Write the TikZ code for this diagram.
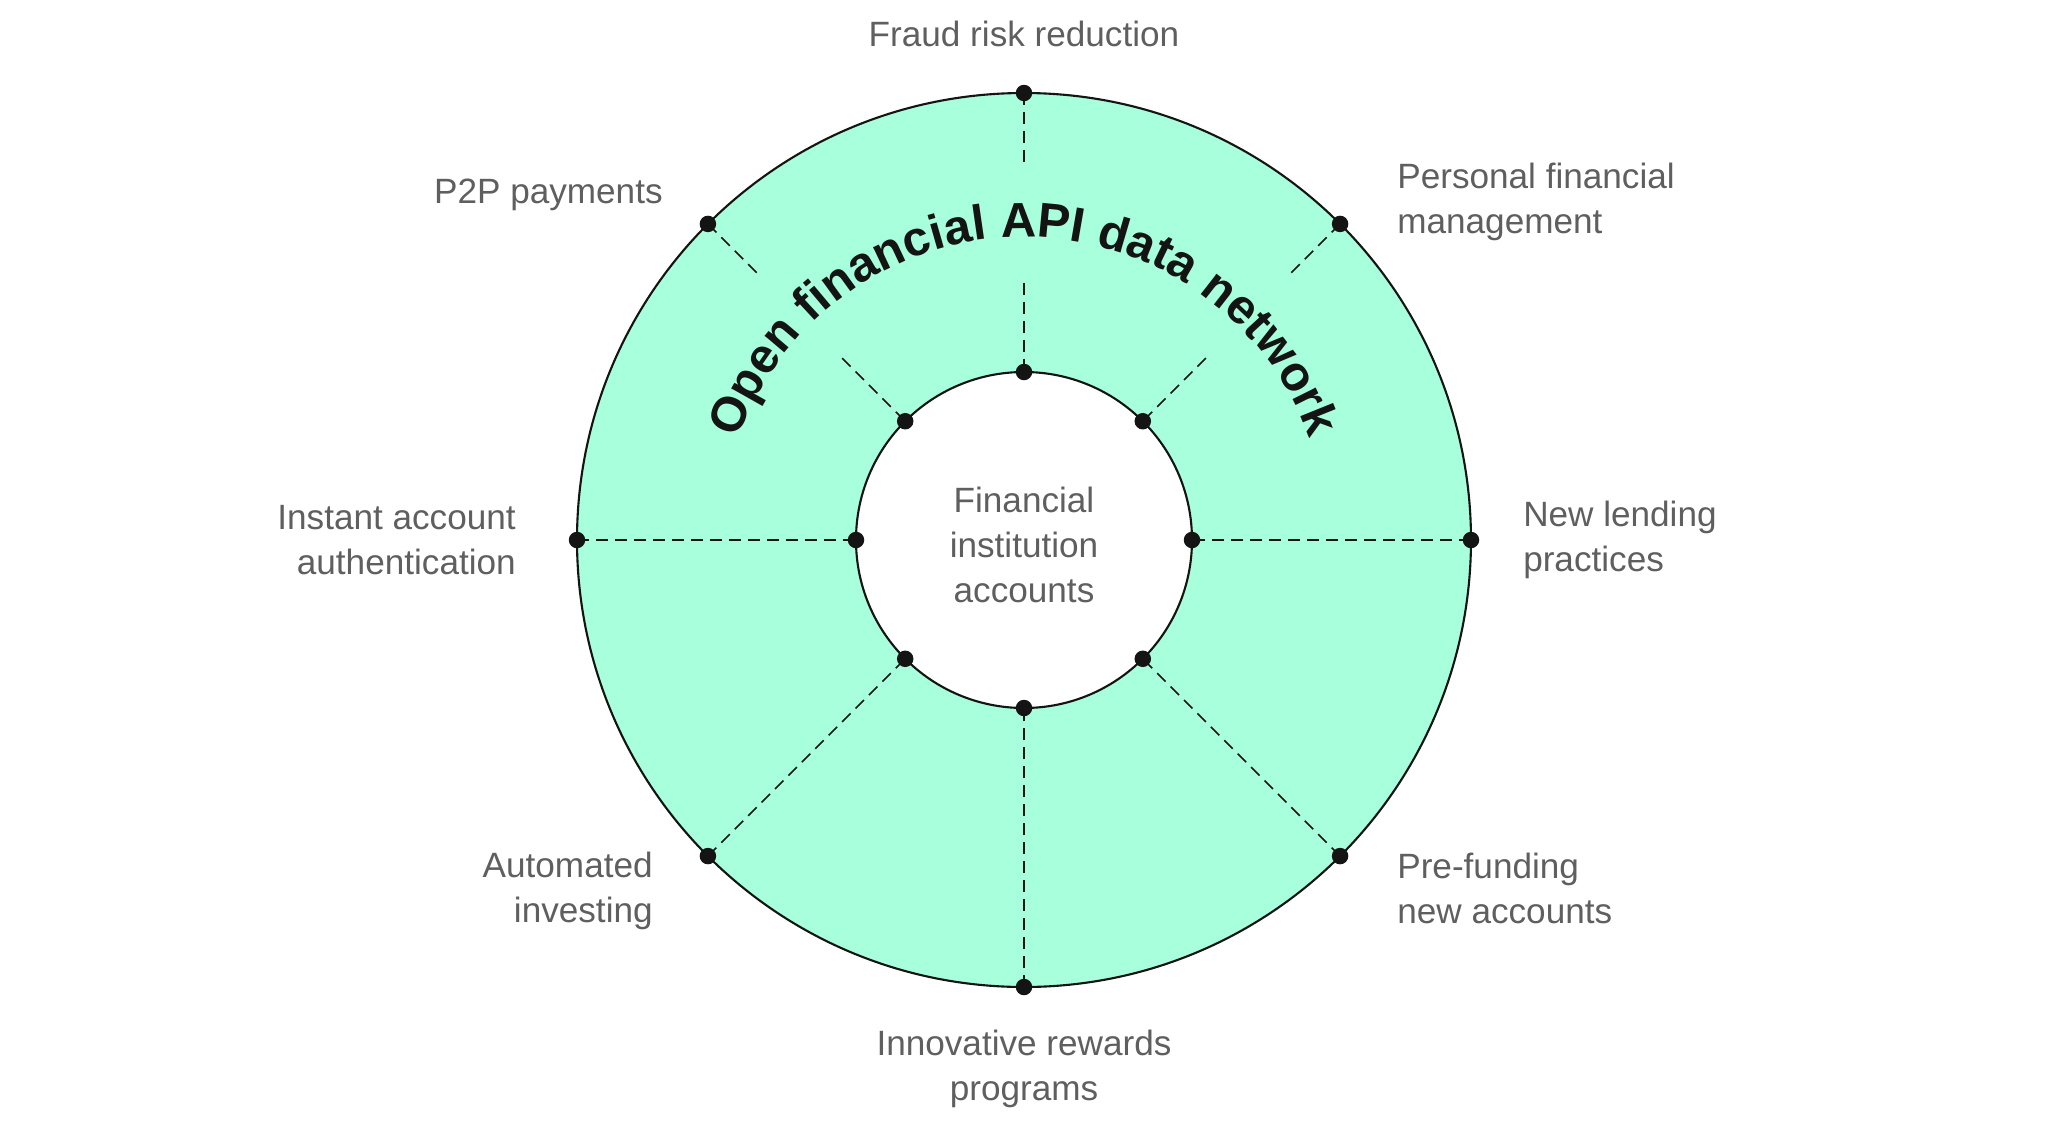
\documentclass[tikz,border=0pt]{standalone}
\usepackage{fontspec}
\setmainfont{Liberation Sans}
\usepackage{xcolor}
\usepackage{tikz}
\usetikzlibrary{positioning,decorations.text}
\definecolor{ink}{HTML}{141414}
\definecolor{mint}{HTML}{A8FFDC}
\definecolor{muted}{HTML}{5F5F5F}
\newcommand{\labelfont}{\fontsize{10}{12.8}\selectfont}
\newcommand{\ringfont}{\bfseries\fontsize{13.9}{16}\selectfont}

\begin{document}
\begin{tikzpicture}[
  x=0.1mm,y=0.1mm,
  ring/.style={circle,draw=ink,line width=0.6pt,fill=mint,minimum size=89.4mm,inner sep=0,outer sep=0},
  core/.style={circle,draw=ink,line width=0.6pt,fill=white,minimum size=33.6mm,inner sep=0,outer sep=0},
  dot/.style={circle,fill=ink,minimum size=1.65mm,inner sep=0,outer sep=0},
  link/.style={draw=ink,line width=0.45pt,dash pattern=on 3.4pt off 2pt},
  lbl/.style={text=muted,font=\labelfont,inner sep=0,outer sep=0}
]
\useasboundingbox (-1024,-596) rectangle (1024,540);
\node[ring] (ring) at (0,0) {};
\node[core] (core) at (0,0) {};
\node[lbl,align=center] (accounts) at ([yshift=-0.5mm]core.center) {Financial\\institution\\accounts};
\foreach \a in {0,45,...,315}
  \draw[link] (ring.\a) -- (core.\a);
% keep the lines clear of the title
\fill[mint] (12:262) arc[start angle=12,end angle=168,radius=262] -- (168:375) arc[start angle=168,end angle=12,radius=375] -- cycle;
\path[decorate,decoration={text along path,text align=center,
  text={|\ringfont\color{ink}|Open financial API data network}}]
  (170:303) arc[start angle=170,end angle=10,radius=303];
\foreach \a in {0,45,...,315} {
  \node[dot] (o\a) at (ring.\a) {};
  \node[dot] (i\a) at (core.\a) {};
}
\node[lbl,above=3.8mm of o90] (fraud) {Fraud risk reduction};
\node[lbl,right=4.9mm of o45,yshift=2.2mm,align=left] (pfm) {Personal financial\\management};
\node[lbl,left=3.7mm of o135,yshift=2.9mm] (ptwop) {P2P payments};
\node[lbl,left=5.3mm of o180,align=right] (instant) {Instant account\\authentication};
\node[lbl,right=4.4mm of o0,align=left] (lending) {New lending\\practices};
\node[lbl,left=4.7mm of o225,yshift=-3.5mm,align=right] (invest) {Automated\\investing};
\node[lbl,right=4.9mm of o315,yshift=-3.2mm,align=left] (prefund) {Pre-funding\\new accounts};
\node[lbl,below=3.5mm of o270,align=center] (rewards) {Innovative rewards\\programs};
\end{tikzpicture}
\end{document}
